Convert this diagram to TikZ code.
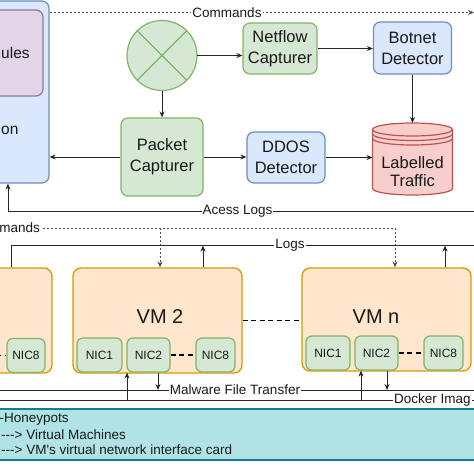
\documentclass[tikz,border=0pt]{standalone}
\usepackage{fontspec}
\setmainfont{Liberation Sans}
\newfontfamily\legendfont{Liberation Sans}
\usepackage{xcolor}
\usepackage{tikz}
\usetikzlibrary{shapes.geometric, arrows.meta}
\definecolor{greenfill}{HTML}{D5E8D4}
\definecolor{greenline}{HTML}{82B366}
\definecolor{bluefill}{HTML}{DAE8FC}
\definecolor{blueline}{HTML}{6C8EBF}
\definecolor{redfill}{HTML}{F8CECC}
\definecolor{redline}{HTML}{B85450}
\definecolor{purplefill}{HTML}{E1D5E7}
\definecolor{purpleline}{HTML}{9673A6}
\definecolor{orangefill}{HTML}{FFE6CC}
\definecolor{orangeline}{HTML}{D79B00}
\definecolor{tealfill}{HTML}{B0E3E6}
\definecolor{tealline}{HTML}{0E8088}
\tikzstyle{arrow} = [black!85, line width=0.9pt, ->, >={Stealth[length=6pt,width=5pt]}]
\tikzstyle{conn} = [black!85, line width=0.9pt]
\tikzstyle{dotline} = [black!70, line width=0.9pt, dash pattern=on 2pt off 2pt]
\tikzstyle{nicdash} = [black, line width=1.4pt, dash pattern=on 5pt off 3.5pt]
\tikzstyle{block} = [draw, rounded corners=7pt, line width=1.2pt, align=center, text=black!90, font=\fontsize{16.5}{21}\selectfont]
\tikzstyle{greenbox} = [block, fill=greenfill, draw=greenline]
\tikzstyle{bluebox} = [block, fill=bluefill, draw=blueline]
\tikzstyle{purplebox} = [block, fill=purplefill, draw=purpleline]
\tikzstyle{vmbox} = [draw=orangeline, fill=orangefill, rounded corners=8pt, line width=1.3pt]
\tikzstyle{vmtext} = [text=black!90, font=\fontsize{20}{24}\selectfont]
\tikzstyle{nicbox} = [greenbox, rounded corners=6pt, minimum height=34pt, inner sep=0pt, font=\fontsize{12}{14}\selectfont]
\tikzstyle{linelabel} = [fill=white, inner sep=1pt, text=black!90, font=\fontsize{13.5}{16}\selectfont]
\tikzstyle{legendtext} = [anchor=west, inner sep=0pt, text=black!90, font=\legendfont\fontsize{13.5}{16}\selectfont]

\begin{document}
\begin{tikzpicture}[x=1pt,y=-1pt]
	\useasboundingbox (0,0) rectangle (474,474);
	% Control block on the left (cut by the frame)
	\node[bluebox, minimum width=89pt, minimum height=182pt] (ctrl) at (4.5,92) {};
	\node[purplebox, minimum width=83pt, minimum height=86pt] (modl) at (1.5,53) {};
	\node[anchor=west, inner sep=0pt, text=black!90, font=\fontsize{15.5}{21}\selectfont] (modltxt) at (1,53) {ules};
	\node[anchor=west, inner sep=0pt, text=black!90, font=\fontsize{15.5}{21}\selectfont] (ctrltxt) at (1,130) {on};
	
	% Traffic splitter and the two capture paths
	\node[circle, draw=greenline, fill=greenfill, line width=1.2pt, minimum size=70pt, inner sep=0pt, outer sep=0pt] (split) at (162,55.5) {};
	\draw[greenline, line width=1.2pt] (split.north west) -- (split.south east) (split.north east) -- (split.south west);
	\node[greenbox, minimum width=74pt, minimum height=51pt] (netflow) at (280,48.5) {Netflow\\Capturer};
	\node[bluebox, minimum width=78pt, minimum height=52pt] (botnet) at (412.5,48) {Botnet\\Detector};
	\node[greenbox, minimum width=82pt, minimum height=78pt] (packet) at (162,157) {Packet\\Capturer};
	\node[bluebox, minimum width=78pt, minimum height=51pt] (ddos) at (286,157.5) {DDOS\\Detector};
	
	% Labelled traffic store (cylinder with rims)
	\node[minimum width=80pt, minimum height=72pt, inner sep=0pt, outer sep=0pt] (traffic) at (412.5,159) {};
	\filldraw[fill=redfill, draw=redline, line width=1.2pt] (372.5,129.5) -- (372.5,188.5) arc[start angle=180, end angle=360, x radius=40pt, y radius=6.5pt] -- (452.5,129.5) arc[start angle=0, end angle=180, x radius=40pt, y radius=6.5pt] -- cycle;
	\foreach \dy in {0,4.5,9}{%
		\draw[redline, line width=1.2pt] (372.5,129.5+\dy) arc[start angle=180, end angle=360, x radius=40pt, y radius=6.5pt];
	}
	\node[align=center, text=black!90, font=\fontsize{16.5}{18}\selectfont] (traffictxt) at (412.5,171.5) {Labelled\\Traffic};
	
	% Arrows of the upper part
	\draw[arrow] (split.east) -- (split.east -| netflow.west);
	\draw[arrow] (netflow.east) -- (netflow.east -| botnet.west);
	\draw[arrow] (botnet.south) -- (traffic.north);
	\draw[arrow] (split.south) -- (packet.north);
	\draw[arrow] (packet.west) -- (packet.west -| ctrl.east);
	\draw[arrow] (packet.east) -- (packet.east -| ddos.west);
	\draw[arrow] (ddos.east) -- (ddos.east -| traffic.west);
	
	% Commands, access logs and logs
	\draw[dotline, arrow, black!70] (ctrl.east |- 0,12.5) -- (474,12.5);
	\node[linelabel] (cmdtop) at (227,12.5) {Commands};
	\draw[arrow] (480,211) -- (8,211) -- (ctrl.south -| 8,0);
	\node[linelabel] (acess) at (237.5,211) {Acess Logs};
	
	% Virtual machines
	\node[vmbox, minimum width=112pt, minimum height=105pt] (vm1) at (-4,320.5) {};
	\node[vmbox, minimum width=169pt, minimum height=105pt] (vm2) at (157.5,320.5) {};
	\node[vmbox, minimum width=169pt, minimum height=103pt] (vmn) at (386.5,319.5) {};
	\node[vmtext] (vm2txt) at (160,317) {VM 2};
	\node[vmtext] (vmntxt) at (376,317) {VM n};
	\node[nicbox, minimum width=38pt] (nic18) at (26,355.5) {NIC8};
	\foreach \nm/\lbl/\x/\w in {nic21/NIC1/99.5/45, nic22/NIC2/148.5/43, nic28/NIC8/215.5/39}{%
		\node[nicbox, minimum width=\w] (\nm) at (\x,355) {\lbl};
	}
	\foreach \nm/\lbl/\x/\w in {nicn1/NIC1/328/44, nicn2/NIC2/376.5/43, nicn8/NIC8/443.5/39}{%
		\node[nicbox, minimum width=\w] (\nm) at (\x,353) {\lbl};
	}
	\draw[nicdash] (-4,355.5) -- (nic18.west);
	\draw[nicdash] (nic22.east) -- (nic28.west);
	\draw[nicdash] (nicn2.east) -- (nicn8.west);
	\draw[nicdash] (vm2.east) -- (vm2.east -| vmn.west);
	
	\draw[dotline, arrow, black!70] (-5,228) -- (395,228) -- (vmn.north -| 395,0);
	\draw[dotline, arrow, black!70] (160,228) -- (vm2.north -| 160,0);
	\node[linelabel, anchor=east] (cmdleft) at (41,228) {mands};
	\draw[conn] (vm1.north -| 11,0) -- (11,245.5) -- (480,245.5);
	\draw[arrow] (vm2.north -| 203,0) -- (203,245.5);
	\draw[arrow] (vmn.north -| 445,0) -- (445,245.5);
	\node[linelabel] (logs) at (290,245.5) {Logs};
	
	% File transfer and docker images
	\draw[conn] (-5,390) -- (480,390);
	\draw[conn] (-5,400) -- (480,400);
	\draw[arrow] (nic22.south -| 158,0) -- (158,390);
	\draw[arrow] (nicn2.south -| 387,0) -- (387,390);
	\draw[arrow] (127,400) -- (nic22.south -| 127,0);
	\draw[arrow] (361,400) -- (nicn2.south -| 361,0);
	\node[linelabel] (malware) at (235,390) {Malware File Transfer};
	\node[linelabel, anchor=west] (docker) at (393,400) {Docker Imag};
	
	% Legend
	\node[draw=tealline, fill=tealfill, line width=1.2pt, minimum width=520pt, minimum height=51pt] (legend) at (237,434.5) {};
	\node[legendtext] (lghoney) at (-0.5,419.5) {-Honeypots};
	\node[legendtext] (lgvm) at (1,434.5) {---> Virtual Machines};
	\node[legendtext] (lgnic) at (1,449.5) {---> VM's virtual network interface card};
\end{tikzpicture}
\end{document}
